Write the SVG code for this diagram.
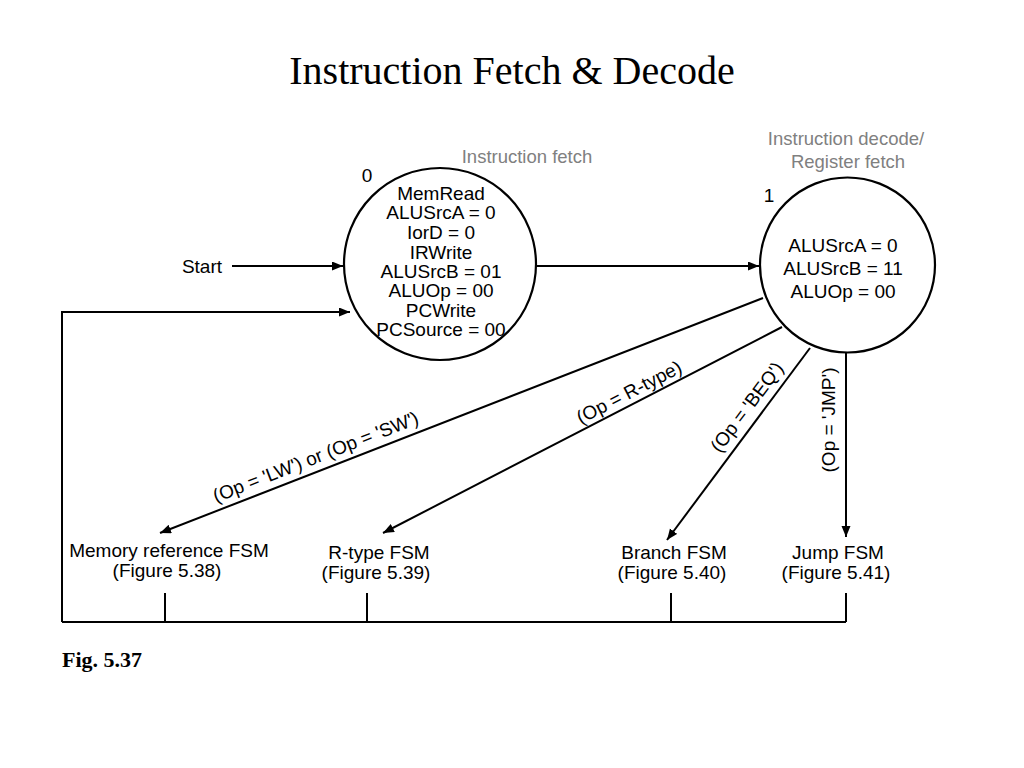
<svg xmlns="http://www.w3.org/2000/svg" width="1024" height="768" viewBox="0 0 1024 768">
<style>
.t{font-family:"Liberation Sans",Arial,sans-serif;font-size:19px;fill:#000;text-anchor:middle}
.g{font-family:"Liberation Sans",Arial,sans-serif;font-size:18.5px;fill:#808080;text-anchor:middle}
.st{fill:#fff;stroke:#000;stroke-width:2.2}
.ln{fill:none;stroke:#000;stroke-width:2}
.ar{fill:none;stroke:#000;stroke-width:2;marker-end:url(#ah)}
</style>
<defs>
<marker id="ah" markerUnits="userSpaceOnUse" markerWidth="12" markerHeight="10" refX="11" refY="4.5" orient="auto">
<path d="M0,0 L11,4.5 L0,9 z" fill="#000"/>
</marker>
</defs>
<rect width="1024" height="768" fill="#fff"/>
<text x="512" y="84" style="font-family:'Liberation Serif','Times New Roman',serif;font-size:40px;text-anchor:middle">Instruction Fetch &amp; Decode</text>
<text x="62" y="667" style="font-family:'Liberation Serif','Times New Roman',serif;font-size:22px;font-weight:bold">Fig. 5.37</text>

<g id="connectors">
<path class="ar" d="M232,266 L343,266"/>
<path class="ar" d="M537,266 L759,266"/>
<path class="ar" d="M62,622 L62,312 L350,312"/>
<path class="ln" d="M62,622 L846,622 M165,593 L165,622 M367,593 L367,622 M671,593 L671,622 M846,593 L846,622"/>
<path class="ar" d="M763,298 L160,533"/>
<path class="ar" d="M782,327 L383,533"/>
<path class="ar" d="M810,348 L667,540"/>
<path class="ar" d="M846,353 L846,537"/>
<text class="t" transform="translate(318,463) rotate(-21.3)">(Op = 'LW') or (Op = 'SW')</text>
<text class="t" transform="translate(632,398) rotate(-27.3)">(Op = R-type)</text>
<text class="t" transform="translate(752,411) rotate(-53)">(Op = 'BEQ')</text>
<text class="t" transform="translate(835,420) rotate(-90)">(Op = 'JMP')</text>
</g>

<g id="start">
<text class="t" x="222" y="273" style="text-anchor:end">Start</text>
</g>

<g id="state0">
<circle class="st" cx="440" cy="264" r="96"/>
<text class="g" x="527" y="163">Instruction fetch</text>
<text class="t" x="367" y="182">0</text>
<text class="t" x="441" y="200">MemRead</text>
<text class="t" x="441" y="219">ALUSrcA = 0</text>
<text class="t" x="441" y="239">IorD = 0</text>
<text class="t" x="441" y="259">IRWrite</text>
<text class="t" x="441" y="278">ALUSrcB = 01</text>
<text class="t" x="441" y="297">ALUOp = 00</text>
<text class="t" x="441" y="317">PCWrite</text>
<text class="t" x="441" y="336">PCSource = 00</text>
</g>

<g id="state1">
<circle class="st" cx="847.5" cy="265" r="87.5"/>
<text class="g" x="846" y="145">Instruction decode/</text>
<text class="g" x="848" y="168">Register fetch</text>
<text class="t" x="769" y="202">1</text>
<text class="t" x="843" y="252">ALUSrcA = 0</text>
<text class="t" x="843" y="275">ALUSrcB = 11</text>
<text class="t" x="843" y="298">ALUOp = 00</text>
</g>

<g id="memfsm">
<text class="t" x="169" y="557">Memory reference FSM</text>
<text class="t" x="167" y="577">(Figure 5.38)</text>
</g>
<g id="rtypefsm">
<text class="t" x="379" y="559">R-type FSM</text>
<text class="t" x="376" y="579">(Figure 5.39)</text>
</g>
<g id="branchfsm">
<text class="t" x="674" y="559">Branch FSM</text>
<text class="t" x="672" y="579">(Figure 5.40)</text>
</g>
<g id="jumpfsm">
<text class="t" x="838" y="559">Jump FSM</text>
<text class="t" x="836" y="579">(Figure 5.41)</text>
</g>
</svg>
